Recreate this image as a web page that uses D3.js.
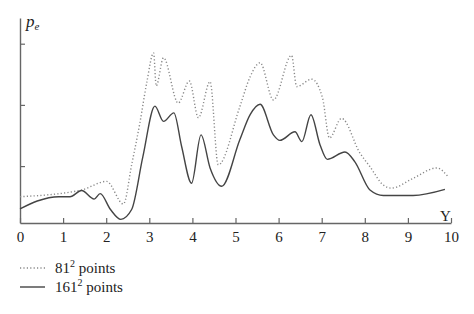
<!DOCTYPE html>
<html>
<head>
<meta charset="utf-8">
<script src="https://cdn.jsdelivr.net/npm/d3@7"></script>
<style>
  body { margin: 0; background: #fff; }
  svg text { font-family: "Liberation Serif", "DejaVu Serif", serif; fill: #222; }
</style>
</head>
<body>
<svg id="chart" width="474" height="314"></svg>
<script>
// Y position and p_e value (arbitrary units, ticks at 1, 2, 3)
const coarseY = [0, 1.43, 2.01, 2.4, 2.59, 2.78, 2.94, 3.10, 3.16, 3.33, 3.67, 3.93, 4.14, 4.41, 4.6, 5.1, 5.34, 5.57, 5.88, 6.3, 6.42, 6.77, 7.02, 7.18, 7.46, 7.89, 8.12, 8.43, 8.62, 9.12, 9.67, 9.94];
const coarseP = [0.50, 0.61, 0.75, 0.38, 1.02, 1.70, 2.36, 2.85, 2.31, 2.77, 2.03, 2.39, 1.79, 2.38, 1.02, 1.97, 2.46, 2.69, 2.08, 2.81, 2.30, 2.42, 2.11, 1.46, 1.78, 1.21, 0.99, 0.69, 0.64, 0.80, 0.97, 0.82];

const fineY = [0, 0.4, 0.9, 1.16, 1.43, 1.72, 1.86, 2.1, 2.34, 2.59, 2.85, 3.13, 3.33, 3.57, 3.75, 3.98, 4.2, 4.41, 4.68, 5.1, 5.34, 5.57, 5.88, 6.03, 6.38, 6.54, 6.75, 6.96, 7.13, 7.54, 7.77, 8.12, 8.43, 9.12, 9.86];
const fineP = [0.30, 0.43, 0.50, 0.50, 0.60, 0.46, 0.55, 0.29, 0.13, 0.29, 1.15, 1.98, 1.73, 1.87, 1.32, 0.72, 1.51, 0.97, 0.67, 1.43, 1.84, 2.01, 1.51, 1.42, 1.56, 1.40, 1.84, 1.35, 1.11, 1.23, 1.07, 0.61, 0.52, 0.52, 0.62];

const xTicks = [0, 1, 2, 3, 4, 5, 6, 7, 8, 9, 10];
const yTicks = [1, 2, 3];

const svg = d3.select('#chart');
const x = d3.scaleLinear().domain([0, 10]).range([20, 451]);
const y = d3.scaleLinear().domain([0.07, 3.42]).range([223, 18]);

// x axis, ticks pointing inward
const xAxis = svg.append('g')
  .attr('transform', `translate(0,${y(0.07)})`)
  .call(d3.axisBottom(x).tickValues(xTicks).tickSize(-5).tickPadding(8).tickSizeOuter(0));
xAxis.select('.domain').attr('stroke', '#666').attr('stroke-width', 1.4);
xAxis.selectAll('.tick line').attr('stroke', '#666').attr('stroke-width', 1.2);
xAxis.selectAll('.tick text').attr('font-size', 15).attr('font-family', '"Liberation Serif", serif').attr('fill', '#222');

// y axis, unlabelled ticks
const yAxis = svg.append('g')
  .attr('transform', `translate(${x(0)},0)`)
  .call(d3.axisLeft(y).tickValues(yTicks).tickSize(-5).tickFormat('').tickSizeOuter(0));
yAxis.select('.domain').attr('stroke', '#666').attr('stroke-width', 1.4);
yAxis.selectAll('.tick line').attr('stroke', '#666').attr('stroke-width', 1.2);

const line = d3.line().curve(d3.curveMonotoneX)
  .x(d => x(d[0])).y(d => y(d[1]));

svg.append('path')
  .datum(d3.zip(coarseY, coarseP))
  .attr('d', line)
  .attr('fill', 'none')
  .attr('stroke', '#888')
  .attr('stroke-width', 1.4)
  .attr('stroke-dasharray', '1.2,2.2');

svg.append('path')
  .datum(d3.zip(fineY, fineP))
  .attr('d', line)
  .attr('fill', 'none')
  .attr('stroke', '#444')
  .attr('stroke-width', 1.4);

// axis labels
const pe = svg.append('text').attr('x', 26).attr('y', 27)
  .attr('font-size', 17).attr('font-style', 'italic');
pe.append('tspan').text('p');
pe.append('tspan').attr('font-size', 11).attr('dy', 3).text('e');

svg.append('text').attr('x', 440).attr('y', 221)
  .attr('font-size', 15).text('Y');

// legend
const legend = [
  { label: '81', dash: '1.2,2.2', color: '#888' },
  { label: '161', dash: null, color: '#444' }
];
legend.forEach((d, i) => {
  const ly = 268 + i * 19;
  svg.append('line')
    .attr('x1', 20).attr('x2', 45).attr('y1', ly).attr('y2', ly)
    .attr('stroke', d.color).attr('stroke-width', 1.4)
    .attr('stroke-dasharray', d.dash);
  const t = svg.append('text').attr('x', 55).attr('y', ly + 5).attr('font-size', 15);
  t.append('tspan').text(d.label);
  t.append('tspan').attr('font-size', 10).attr('dy', -6).text('2');
  t.append('tspan').attr('dy', 6).text(' points');
});
</script>
</body>
</html>
